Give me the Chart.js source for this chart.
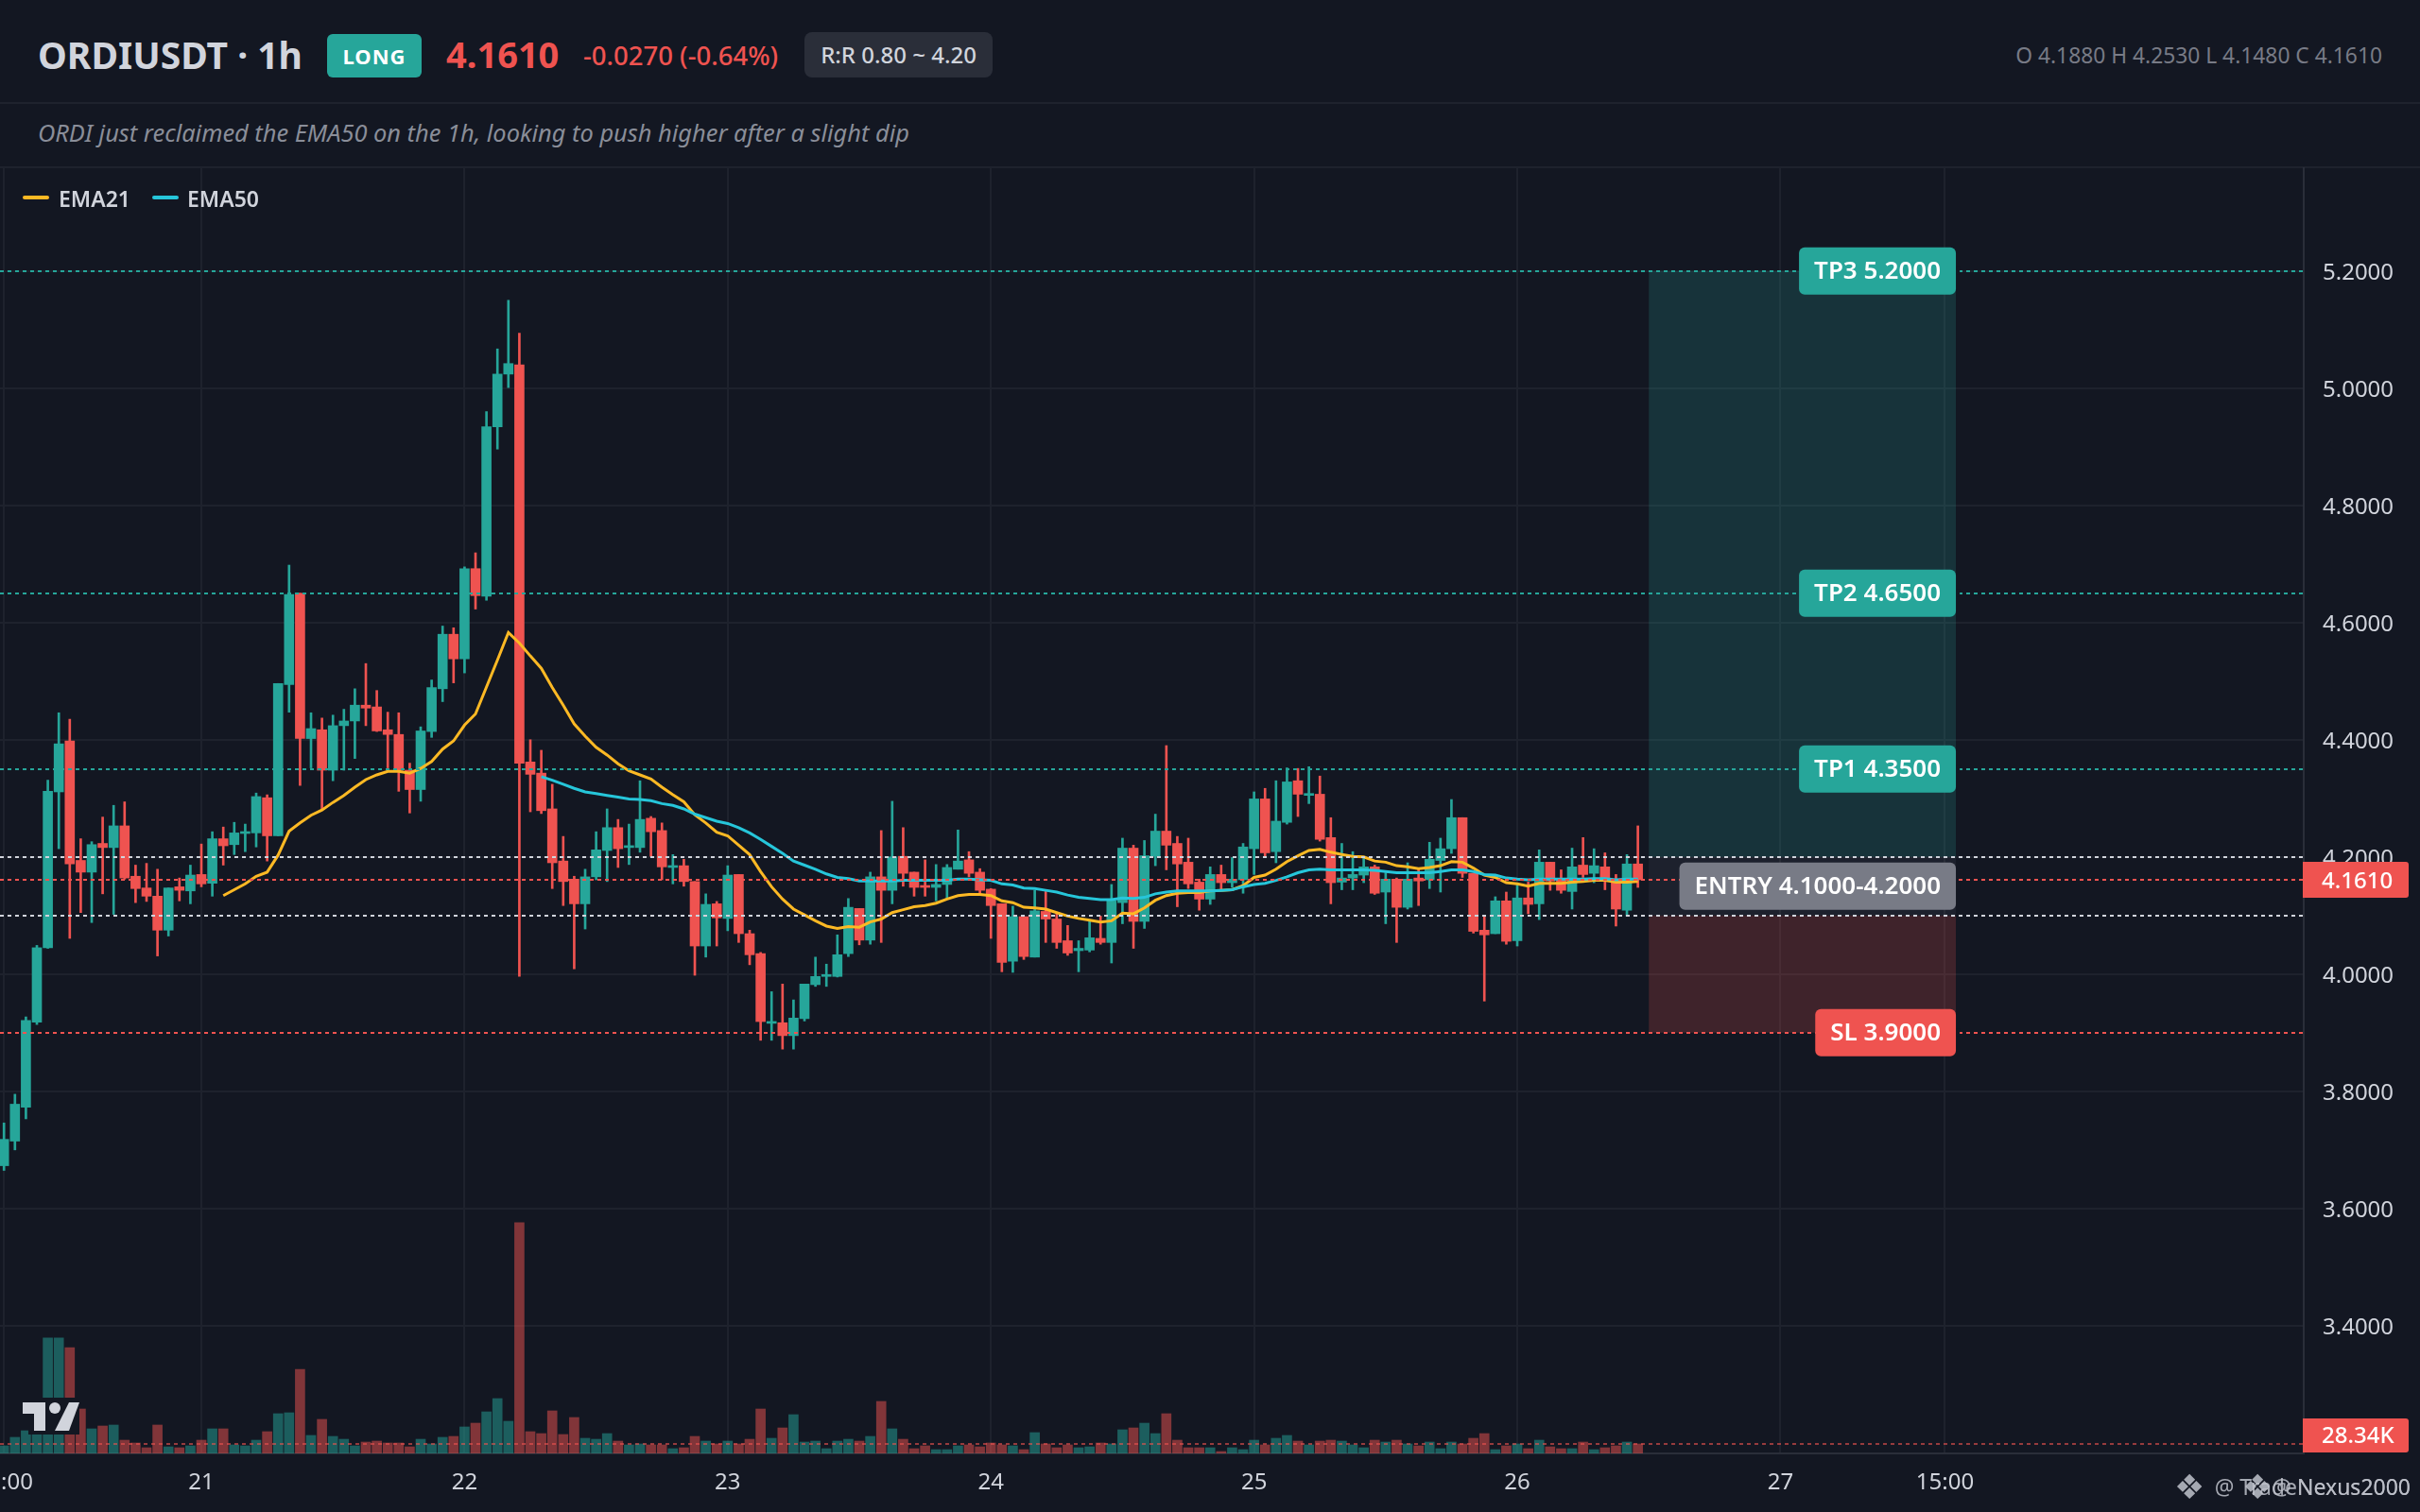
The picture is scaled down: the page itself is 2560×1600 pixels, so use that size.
<!DOCTYPE html>
<html>
<head>
<meta charset="utf-8">
<title>ORDIUSDT 1h</title>
<script src="https://cdn.jsdelivr.net/npm/chart.js@4/dist/chart.umd.js"></script>
<style>
  html, body { margin: 0; padding: 0; background: #131722; }
  body { position: relative; width: 2560px; height: 1600px; overflow: hidden; font-family: "Noto Sans", sans-serif; color: #d1d4dc; }
  .txt { position: absolute; white-space: nowrap; line-height: 1; }
  .rule { position: absolute; left: 0; width: 2560px; height: 2px; background: #1e222d; }
  #symbol { left: 40px; top: 38px; font-size: 39px; font-weight: 700; }
  #badge { left: 346px; top: 36px; width: 100px; height: 46px; border-radius: 6px; background: #26a69a; color: #fff; font-size: 22px; font-weight: 700; letter-spacing: 1px; text-align: center; line-height: 46px; }
  #price { left: 472px; top: 38px; font-size: 38px; font-weight: 700; color: #ef5350; }
  #change { left: 617px; top: 45px; font-size: 27.5px; font-weight: 500; color: #ef5350; }
  #rr { left: 851px; top: 34px; width: 199px; height: 48px; border-radius: 8px; background: #2a2e39; font-size: 24px; font-weight: 500; text-align: center; line-height: 48px; }
  #ohlc { right: 40px; top: 48px; font-size: 22.8px; color: #787b86; }
  #note { left: 40px; top: 128px; font-size: 25.4px; font-style: italic; color: #8a8e99; }
  .swatch { position: absolute; top: 207px; width: 28px; height: 4px; border-radius: 2px; }
  .legend { top: 199px; font-size: 23px; font-weight: 600; }
  .wm { top: 1562px; right: 10px; font-size: 23px; color: #c0c3cc; opacity: 0.85; }
  .wmi { top: 1556px; font-size: 36px; font-family: "DejaVu Sans"; color: #c0c3cc; opacity: 0.85; }
  #chart { position: absolute; left: 0; top: 177px; }
</style>
</head>
<body>
<div class="rule" style="top:108px"></div>
<div class="rule" style="top:176px"></div>
<div class="txt" id="symbol">ORDIUSDT · 1h</div>
<div class="txt" id="badge">LONG</div>
<div class="txt" id="price">4.1610</div>
<div class="txt" id="change">-0.0270 (-0.64%)</div>
<div class="txt" id="rr">R:R 0.80 ~ 4.20</div>
<div class="txt" id="ohlc">O 4.1880 H 4.2530 L 4.1480 C 4.1610</div>
<div class="txt" id="note">ORDI just reclaimed the EMA50 on the 1h, looking to push higher after a slight dip</div>

<canvas id="chart" width="2560" height="1423"></canvas>

<div class="swatch" style="left:24px;background:#fdb924"></div>
<div class="txt legend" style="left:62px">EMA21</div>
<div class="swatch" style="left:161px;background:#26c6da"></div>
<div class="txt legend" style="left:198px">EMA50</div>

<div class="txt wmi" style="left:2300px">❖</div>
<div class="txt wm">@ TradeNexus2000</div>
<div class="txt wmi" style="left:2372px">❖</div>
<div class="txt wm">@ Nexus2000</div>

<script>
// velas de 1h, indice 0 = dia 20 06:00
const opens = [
  3.673,3.715,3.773,3.918,4.045,4.311,4.398,4.194,4.174,4.223,
  4.216,4.253,4.167,4.147,4.133,4.075,4.149,4.142,4.170,4.155,
  4.231,4.221,4.240,4.241,4.301,4.236,4.494,4.650,4.402,4.417,
  4.348,4.424,4.432,4.459,4.456,4.417,4.409,4.348,4.315,4.414,
  4.487,4.580,4.538,4.692,4.645,4.934,5.024,5.040,4.362,4.343,
  4.282,4.193,4.162,4.120,4.166,4.211,4.250,4.216,4.216,4.266,
  4.245,4.182,4.185,4.158,4.048,4.120,4.095,4.170,4.069,4.035,
  3.916,3.917,3.895,3.924,3.982,3.996,3.996,4.035,4.112,4.058,
  4.166,4.143,4.201,4.174,4.151,4.148,4.153,4.179,4.195,4.174,
  4.145,4.120,4.022,4.098,4.029,4.107,4.094,4.057,4.040,4.041,
  4.061,4.054,4.122,4.215,4.090,4.201,4.244,4.223,4.191,4.157,
  4.128,4.170,4.156,4.161,4.214,4.299,4.209,4.259,4.330,4.305,
  4.307,4.233,4.157,4.164,4.169,4.183,4.140,4.162,4.114,4.164,
  4.161,4.194,4.214,4.267,4.172,4.075,4.069,4.125,4.057,4.130,
  4.120,4.191,4.161,4.141,4.186,4.172,4.183,4.161,4.109,4.188
];
const highs = [
  3.746,3.795,3.927,4.049,4.331,4.446,4.435,4.231,4.226,4.268,
  4.288,4.294,4.186,4.189,4.179,4.147,4.164,4.186,4.222,4.243,
  4.251,4.259,4.256,4.309,4.306,4.496,4.698,4.650,4.446,4.437,
  4.442,4.452,4.487,4.530,4.484,4.447,4.446,4.360,4.422,4.502,
  4.594,4.591,4.695,4.719,4.960,5.067,5.150,5.094,4.400,4.382,
  4.324,4.235,4.167,4.179,4.243,4.282,4.264,4.256,4.330,4.269,
  4.258,4.204,4.196,4.158,4.137,4.124,4.185,4.170,4.075,4.037,
  3.970,3.983,3.956,3.983,4.029,4.017,4.067,4.129,4.112,4.174,
  4.245,4.295,4.250,4.174,4.195,4.187,4.187,4.246,4.209,4.180,
  4.146,4.120,4.116,4.098,4.143,4.141,4.105,4.083,4.057,4.090,
  4.099,4.153,4.232,4.220,4.228,4.273,4.390,4.235,4.232,4.162,
  4.183,4.186,4.199,4.223,4.311,4.317,4.330,4.352,4.351,4.354,
  4.338,4.267,4.223,4.209,4.198,4.186,4.173,4.164,4.190,4.178,
  4.225,4.232,4.298,4.267,4.172,4.098,4.132,4.140,4.153,4.157,
  4.212,4.191,4.178,4.215,4.233,4.214,4.207,4.170,4.204,4.253
];
const lows = [
  3.665,3.700,3.753,3.914,4.044,4.214,4.061,4.105,4.088,4.137,
  4.102,4.162,4.122,4.124,4.031,4.065,4.125,4.120,4.149,4.133,
  4.186,4.204,4.209,4.217,4.193,4.236,4.447,4.322,4.352,4.281,
  4.330,4.348,4.368,4.424,4.414,4.352,4.312,4.275,4.295,4.404,
  4.465,4.497,4.514,4.623,4.638,4.896,5.001,3.996,4.277,4.274,
  4.146,4.117,4.009,4.077,4.161,4.158,4.182,4.187,4.208,4.201,
  4.161,4.154,4.150,3.998,4.029,4.048,4.074,4.054,4.016,3.887,
  3.887,3.872,3.872,3.920,3.979,3.979,3.995,4.030,4.050,4.051,
  4.054,4.120,4.150,4.133,4.133,4.125,4.129,4.179,4.166,4.138,
  4.061,4.004,4.003,4.025,4.029,4.054,4.044,4.032,4.004,4.038,
  4.051,4.019,4.086,4.044,4.078,4.185,4.178,4.115,4.146,4.109,
  4.119,4.144,4.148,4.138,4.170,4.201,4.190,4.256,4.269,4.291,
  4.227,4.120,4.144,4.144,4.156,4.136,4.086,4.054,4.111,4.117,
  4.146,4.140,4.206,4.165,4.070,3.954,4.069,4.051,4.048,4.103,
  4.093,4.143,4.138,4.111,4.165,4.156,4.144,4.082,4.099,4.148
];
const closes = [
  3.718,3.778,3.921,4.045,4.312,4.393,4.188,4.174,4.221,4.216,
  4.253,4.164,4.146,4.133,4.075,4.147,4.143,4.169,4.154,4.231,
  4.219,4.241,4.243,4.303,4.236,4.496,4.648,4.402,4.419,4.348,
  4.424,4.432,4.459,4.454,4.415,4.409,4.348,4.315,4.415,4.489,
  4.580,4.538,4.692,4.646,4.934,5.024,5.042,4.360,4.341,4.279,
  4.190,4.158,4.120,4.166,4.212,4.250,4.214,4.219,4.264,4.243,
  4.183,4.185,4.158,4.048,4.119,4.096,4.169,4.069,4.033,3.919,
  3.919,3.895,3.925,3.983,3.996,3.998,4.033,4.114,4.058,4.166,
  4.143,4.200,4.172,4.148,4.148,4.153,4.182,4.193,4.172,4.143,
  4.117,4.020,4.098,4.030,4.108,4.094,4.054,4.036,4.044,4.062,
  4.054,4.125,4.215,4.090,4.202,4.244,4.220,4.188,4.154,4.128,
  4.170,4.156,4.162,4.217,4.299,4.207,4.261,4.328,4.307,4.308,
  4.230,4.156,4.164,4.170,4.183,4.138,4.162,4.114,4.162,4.159,
  4.196,4.214,4.267,4.172,4.073,4.067,4.125,4.056,4.130,4.119,
  4.191,4.159,4.143,4.183,4.170,4.185,4.161,4.111,4.188,4.161
];
// volumen en miles
const volumes = [
  22.7,48.2,68.0,164.4,345.9,345.9,317.5,133.2,73.7,82.2,
  85.1,39.7,31.2,17.0,85.1,19.8,17.0,22.7,39.7,73.7,
  73.7,25.5,22.7,39.7,65.2,119.1,121.9,252.3,53.9,102.1,
  51.0,42.5,22.7,34.0,36.9,31.2,31.2,19.8,42.5,28.4,
  48.2,51.0,79.4,90.7,124.7,164.4,96.4,691.7,65.2,59.5,
  127.6,56.7,107.7,45.4,42.5,59.5,36.9,25.5,28.4,25.5,
  25.5,14.2,17.0,51.0,36.9,28.4,36.9,28.4,42.5,133.2,
  45.4,76.5,116.2,34.0,36.9,14.2,36.9,42.5,36.9,51.0,
  155.9,73.7,42.5,14.2,22.7,11.3,11.3,22.7,25.5,19.8,
  31.2,25.5,22.7,11.3,62.4,28.4,17.0,25.5,17.0,19.8,
  31.2,28.4,70.9,76.5,90.7,59.5,119.1,39.7,17.0,17.0,
  17.0,5.7,17.0,11.3,39.7,25.5,45.4,53.9,36.9,25.5,
  36.9,39.7,36.9,25.5,17.0,39.7,34.0,39.7,28.4,22.7,
  34.0,14.2,34.0,28.4,45.4,59.5,11.3,22.7,28.4,14.2,
  39.7,19.8,14.2,14.2,34.0,11.3,17.0,22.7,34.0,28.34
];
const ema21Start = 20;
const ema21 = [
  4.134,4.144,4.154,4.167,4.174,4.203,4.244,4.258,4.271,4.280,
  4.293,4.305,4.319,4.332,4.340,4.346,4.346,4.343,4.351,4.363,
  4.384,4.398,4.425,4.444,4.490,4.536,4.583,4.565,4.543,4.522,
  4.489,4.459,4.427,4.406,4.387,4.374,4.359,4.347,4.340,4.333,
  4.319,4.306,4.294,4.272,4.258,4.242,4.236,4.220,4.204,4.175,
  4.149,4.128,4.111,4.101,4.091,4.082,4.078,4.081,4.080,4.089,
  4.094,4.105,4.110,4.115,4.117,4.121,4.128,4.134,4.136,4.136,
  4.134,4.125,4.122,4.114,4.113,4.111,4.105,4.099,4.095,4.092,
  4.089,4.091,4.104,4.103,4.113,4.126,4.134,4.138,4.139,4.139,
  4.142,4.143,4.144,4.151,4.165,4.169,4.179,4.192,4.202,4.211,
  4.213,4.208,4.204,4.201,4.200,4.193,4.191,4.185,4.183,4.180,
  4.182,4.185,4.192,4.191,4.181,4.169,4.165,4.156,4.154,4.150,
  4.155,4.155,4.155,4.157,4.158,4.160,4.160,4.157,4.157,4.158
];
const ema50Start = 49;
const ema50 = [
  4.337,
  4.331,4.324,4.317,4.311,4.308,4.305,4.302,4.299,4.298,4.296,
  4.291,4.288,4.282,4.273,4.267,4.261,4.257,4.250,4.241,4.230,
  4.218,4.206,4.193,4.186,4.179,4.171,4.165,4.163,4.159,4.159,
  4.159,4.159,4.160,4.160,4.160,4.160,4.160,4.162,4.162,4.161,
  4.160,4.154,4.152,4.147,4.146,4.143,4.140,4.135,4.131,4.129,
  4.127,4.127,4.130,4.129,4.131,4.137,4.140,4.142,4.142,4.142,
  4.142,4.143,4.144,4.149,4.153,4.155,4.160,4.166,4.173,4.178,
  4.179,4.178,4.178,4.178,4.178,4.177,4.175,4.173,4.173,4.173,
  4.173,4.175,4.178,4.178,4.175,4.170,4.169,4.164,4.162,4.161,
  4.162,4.162,4.162,4.162,4.162,4.163,4.163,4.161,4.162,4.162
];

const timeTicks = [0, 18, 42, 66, 90, 114, 138, 162, 177];
const timeLabels = ['06:00', '21', '22', '23', '24', '25', '26', '27', '15:00'];
const priceTicks = [3.4, 3.6, 3.8, 4.0, 4.2, 4.4, 4.6, 4.8, 5.0, 5.2];

const levelPrices = [5.2, 4.65, 4.35, 4.2, 4.161, 4.1, 3.9];
const levelColors = ['#26a69a', '#26a69a', '#26a69a', '#d1d4dc', '#ef5350', '#d1d4dc', '#ef5350'];

const tagNames = ['TP3 5.2000', 'TP2 4.6500', 'TP1 4.3500', 'ENTRY 4.1000-4.2000', 'SL 3.9000'];
const tagPrices = [5.2, 4.65, 4.35, 4.15, 3.9];
const tagColors = ['#26a69a', '#26a69a', '#26a69a', '#787b86', '#ef5350'];

const zoneFrom = 150, zoneTo = 178;
const zoneTops = [5.2, 4.2, 4.1];
const zoneBottoms = [4.2, 4.1, 3.9];
const zoneColors = ['rgba(38,166,154,0.2)', 'rgba(209,212,220,0.06)', 'rgba(239,83,80,0.2)'];

const lastPrice = 4.161;
const lastVolume = 28.34;

const UP = '#26a69a', DOWN = '#ef5350';
const UP_VOL = 'rgba(38,166,154,0.5)', DOWN_VOL = 'rgba(239,83,80,0.5)';
const GRID = '#1e222d', AXIS = '#2a2e39', BG = '#131722';
const FONT = '"Noto Sans", sans-serif';

function isUp(i) {
    return closes[i] >= opens[i];
}

const indexes = opens.map((_, i) => i);
const wickData = indexes.map(i => ({ x: i, y: [lows[i], highs[i]] }));
const bodyData = indexes.map(i => ({ x: i, y: [Math.min(opens[i], closes[i]), Math.max(opens[i], closes[i])] }));
const volData = indexes.map(i => ({ x: i, y: volumes[i] }));
const candleColors = indexes.map(i => isUp(i) ? UP : DOWN);
const volColors = indexes.map(i => isUp(i) ? UP_VOL : DOWN_VOL);

function drawPriceTag(ctx, chart, y, text, top, h) {
    const left = chart.chartArea.right - 1;
    ctx.fillStyle = DOWN;
    ctx.beginPath();
    ctx.roundRect(left, top, 112, h, [0, 3, 3, 0]);
    ctx.fill();
    ctx.fillStyle = '#fff';
    ctx.font = '500 24px ' + FONT;
    ctx.textAlign = 'left';
    ctx.textBaseline = 'middle';
    ctx.fillText(text, left + 20, y);
}

function drawLogo(ctx) {
    // logo de TradingView en la esquina del panel
    const oy = -177;
    ctx.fillStyle = BG;
    ctx.fillRect(30, 1479 + oy, 54, 39);
    ctx.fillStyle = '#d1d4dc';
    ctx.beginPath();
    ctx.moveTo(24, 1484 + oy);
    ctx.lineTo(48, 1484 + oy);
    ctx.lineTo(48, 1514 + oy);
    ctx.lineTo(36, 1514 + oy);
    ctx.lineTo(36, 1496 + oy);
    ctx.lineTo(24, 1496 + oy);
    ctx.closePath();
    ctx.fill();
    ctx.beginPath();
    ctx.arc(58, 1490 + oy, 6, 0, Math.PI * 2);
    ctx.fill();
    ctx.beginPath();
    ctx.moveTo(73, 1484 + oy);
    ctx.lineTo(84, 1484 + oy);
    ctx.lineTo(73, 1514 + oy);
    ctx.lineTo(58, 1514 + oy);
    ctx.closePath();
    ctx.fill();
}

const tradePlugin = {
    id: 'tradeLevels',
    beforeDatasetsDraw(chart) {
        const ctx = chart.ctx, xs = chart.scales.x, ys = chart.scales.y;
        ctx.save();
        zoneTops.forEach((top, i) => {
            ctx.fillStyle = zoneColors[i];
            const x0 = xs.getPixelForValue(zoneFrom), x1 = xs.getPixelForValue(zoneTo);
            const y0 = ys.getPixelForValue(top), y1 = ys.getPixelForValue(zoneBottoms[i]);
            ctx.fillRect(x0, y0, x1 - x0, y1 - y0);
        });
        ctx.restore();
    },
    afterDatasetsDraw(chart) {
        const ctx = chart.ctx, xs = chart.scales.x, ys = chart.scales.y, vs = chart.scales.vol;
        const area = chart.chartArea;
        ctx.save();
        ctx.lineWidth = 2;
        ctx.setLineDash([4, 4]);
        levelPrices.forEach((p, i) => {
            const y = Math.round(ys.getPixelForValue(p));
            ctx.strokeStyle = levelColors[i];
            ctx.beginPath();
            ctx.moveTo(area.left, y);
            ctx.lineTo(area.right, y);
            ctx.stroke();
        });
        const volY = Math.round(vs.getPixelForValue(lastVolume));
        ctx.strokeStyle = 'rgba(239,83,80,0.6)';
        ctx.beginPath();
        ctx.moveTo(area.left, volY);
        ctx.lineTo(area.right, volY);
        ctx.stroke();
        ctx.setLineDash([]);

        // etiquetas de niveles
        ctx.font = '600 26px ' + FONT;
        ctx.textBaseline = 'middle';
        ctx.textAlign = 'left';
        const right = xs.getPixelForValue(zoneTo);
        tagNames.forEach((name, i) => {
            const w = ctx.measureText(name).width + 32;
            const y = ys.getPixelForValue(tagPrices[i]);
            // hueco de la linea a la derecha de la etiqueta
            ctx.fillStyle = BG;
            ctx.fillRect(right, y - 4, 4, 8);
            ctx.fillStyle = tagColors[i];
            ctx.beginPath();
            ctx.roundRect(right - w, y - 25, w, 50, 6);
            ctx.fill();
            ctx.fillStyle = '#fff';
            ctx.fillText(name, right - w + 16, y + 1);
        });

        // precio y volumen actuales en el eje
        const py = ys.getPixelForValue(lastPrice);
        drawPriceTag(ctx, chart, py + 2, lastPrice.toFixed(4), py - 19, 38);
        drawPriceTag(ctx, chart, 1520 - 177, lastVolume.toFixed(2) + 'K', 1501 - 177, 36);

        drawLogo(ctx);
        ctx.restore();
    }
};

document.addEventListener('DOMContentLoaded', function () {
    const ctx = document.getElementById('chart').getContext('2d');
    new Chart(ctx, {
        type: 'bar',
        data: {
            datasets: [
                { type: 'line', label: 'EMA50', order: 1, yAxisID: 'y', data: ema50.map((v, i) => ({ x: ema50Start + i, y: v })), borderColor: '#26c6da', borderWidth: 3, pointRadius: 0, tension: 0 },
                { type: 'line', label: 'EMA21', order: 2, yAxisID: 'y', data: ema21.map((v, i) => ({ x: ema21Start + i, y: v })), borderColor: '#fdb924', borderWidth: 3, pointRadius: 0, tension: 0 },
                { label: 'bodies', order: 3, yAxisID: 'y', grouped: false, data: bodyData, backgroundColor: candleColors, barThickness: 10, minBarLength: 2 },
                { label: 'wicks', order: 4, yAxisID: 'y', grouped: false, data: wickData, backgroundColor: candleColors, barThickness: 2 },
                { label: 'volume', order: 5, yAxisID: 'vol', grouped: false, data: volData, backgroundColor: volColors, barThickness: 10 }
            ]
        },
        plugins: [tradePlugin],
        options: {
            responsive: false,
            animation: false,
            events: [],
            layout: { padding: 0 },
            plugins: { legend: { display: false }, tooltip: { enabled: false } },
            scales: {
                x: {
                    type: 'linear',
                    offset: false,
                    min: -0.362,
                    max: 209.72,
                    grid: { color: GRID, lineWidth: 2, offset: false, drawTicks: false },
                    border: { color: AXIS, width: 2 },
                    ticks: {
                        color: '#d1d4dc',
                        font: { family: FONT, size: 24 },
                        padding: 17,
                        autoSkip: false,
                        maxRotation: 0,
                        callback: (value, index) => timeLabels[index]
                    },
                    afterBuildTicks(scale) {
                        scale.ticks = timeTicks.map(v => ({ value: v }));
                    },
                    afterFit(scale) {
                        scale.height = 62;
                        scale.paddingLeft = 0;
                        scale.paddingRight = 0;
                    }
                },
                y: {
                    type: 'linear',
                    position: 'right',
                    min: 3.182,
                    max: 5.377,
                    grid: { color: GRID, lineWidth: 2, drawTicks: false },
                    border: { color: AXIS, width: 2 },
                    ticks: {
                        color: '#d1d4dc',
                        font: { family: FONT, size: 24 },
                        padding: 20,
                        labelOffset: 2,
                        callback: value => value.toFixed(4)
                    },
                    afterBuildTicks(scale) {
                        scale.ticks = priceTicks.map(v => ({ value: v }));
                    },
                    afterFit(scale) {
                        scale.width = 123;
                        scale.paddingTop = 0;
                        scale.paddingBottom = 0;
                    }
                },
                vol: {
                    type: 'linear',
                    display: false,
                    min: 0,
                    max: 3857
                }
            }
        }
    });
});
</script>
</body>
</html>
